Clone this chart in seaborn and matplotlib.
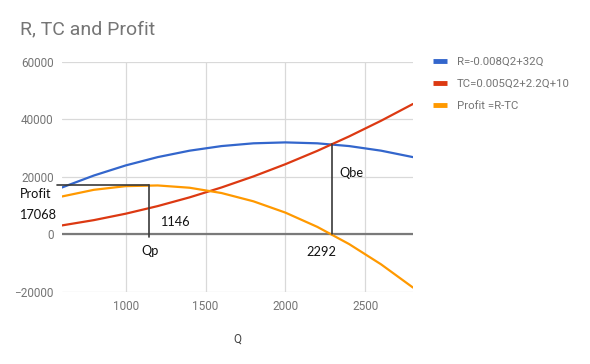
import numpy as np
import pandas as pd
import matplotlib
matplotlib.use("Agg")
import matplotlib.pyplot as plt
import seaborn as sns
from matplotlib.lines import Line2D

q = [600, 800, 1000, 1200, 1400, 1600, 1800, 2000, 2200, 2400, 2600, 2800]
revenue = [16320, 20480, 24000, 26880, 29120, 30720, 31680, 32000, 31680, 30720, 29120, 26880]
total_cost = [3130, 4970, 7210, 9850, 12890, 16330, 20170, 24410, 29050, 34090, 39530, 45370]
profit = [13190, 15510, 16790, 17030, 16230, 14390, 11510, 7590, 2630, -3370, -10410, -18490]

series_names = ["R=-0.008Q2+32Q", "TC=0.005Q2+2.2Q+10", "Profit =R-TC"]
colors = ["#3366cc", "#dc3912", "#ff9900"]

q_profit_max, profit_max = 1146, 17068
q_break_even, r_break_even = 2292, 31318

y_ticks = [-20000, 0, 20000, 40000, 60000]
x_ticks = [1000, 1500, 2000, 2500]

df = pd.DataFrame({
    "Q": q * 3,
    "value": revenue + total_cost + profit,
    "series": [series_names[0]] * len(q) + [series_names[1]] * len(q) + [series_names[2]] * len(q),
})

sns.set_style("white")
plt.rcParams["font.family"] = ["Roboto", "DejaVu Sans"]

fig = plt.figure(figsize=(5.9, 3.64), dpi=100)
ax = fig.add_axes([0.105, 0.198, 0.595, 0.632])

sns.lineplot(data=df, x="Q", y="value", hue="series", palette=colors,
             linewidth=1.6, legend=False, ax=ax, zorder=3)

ax.set_xlim(600, 2800)
ax.set_ylim(-20000, 60000)
ax.set_xticks(x_ticks)
ax.set_yticks(y_ticks)
ax.grid(True, color="#d9d9d9", linewidth=0.9)
ax.axhline(0, color="#7a7a7a", linewidth=1.6, zorder=2)
for s in ax.spines.values():
    s.set_visible(False)
ax.tick_params(axis="both", length=0, labelsize=8.5, labelcolor="#757575", pad=6)
ax.set_xlabel("Q", fontsize=8.5, color="#444444", labelpad=14)
ax.set_ylabel("")

# annotation lines
line_kw = dict(color="#3a3a3a", linewidth=1.2, zorder=4, clip_on=False)
ax.plot([570, q_profit_max], [profit_max, profit_max], **line_kw)
ax.plot([q_profit_max, q_profit_max], [profit_max, -900], **line_kw)
ax.plot([q_break_even, q_break_even], [r_break_even, 0], **line_kw)

note_font = ["Lato", "DejaVu Sans"]
note_kw = dict(fontsize=9.2, color="#111111", family=note_font)
ax.text(0.033, 0.457, "Profit", transform=fig.transFigure, **note_kw)
ax.text(0.033, 0.397, "17068", transform=fig.transFigure, **note_kw)
ax.text(1215, 2800, str(q_profit_max), **note_kw)
ax.text(1100, -7300, "Qp", **note_kw)
ax.text(2130, -7500, str(q_break_even), **note_kw)
ax.text(2340, 20000, "Qbe", **note_kw)

fig.text(0.034, 0.905, "R, TC and Profit", fontsize=14, color="#757575")

handles = [Line2D([0], [0], color=c, linewidth=3.5, solid_capstyle="butt") for c in colors]
fig.legend(handles, series_names, loc="upper left", bbox_to_anchor=(0.717, 0.872),
           frameon=False, fontsize=8.2, labelcolor="#757575",
           handlelength=1.2, handletextpad=0.9, labelspacing=1.05)

fig.savefig("out.png", dpi=100)
